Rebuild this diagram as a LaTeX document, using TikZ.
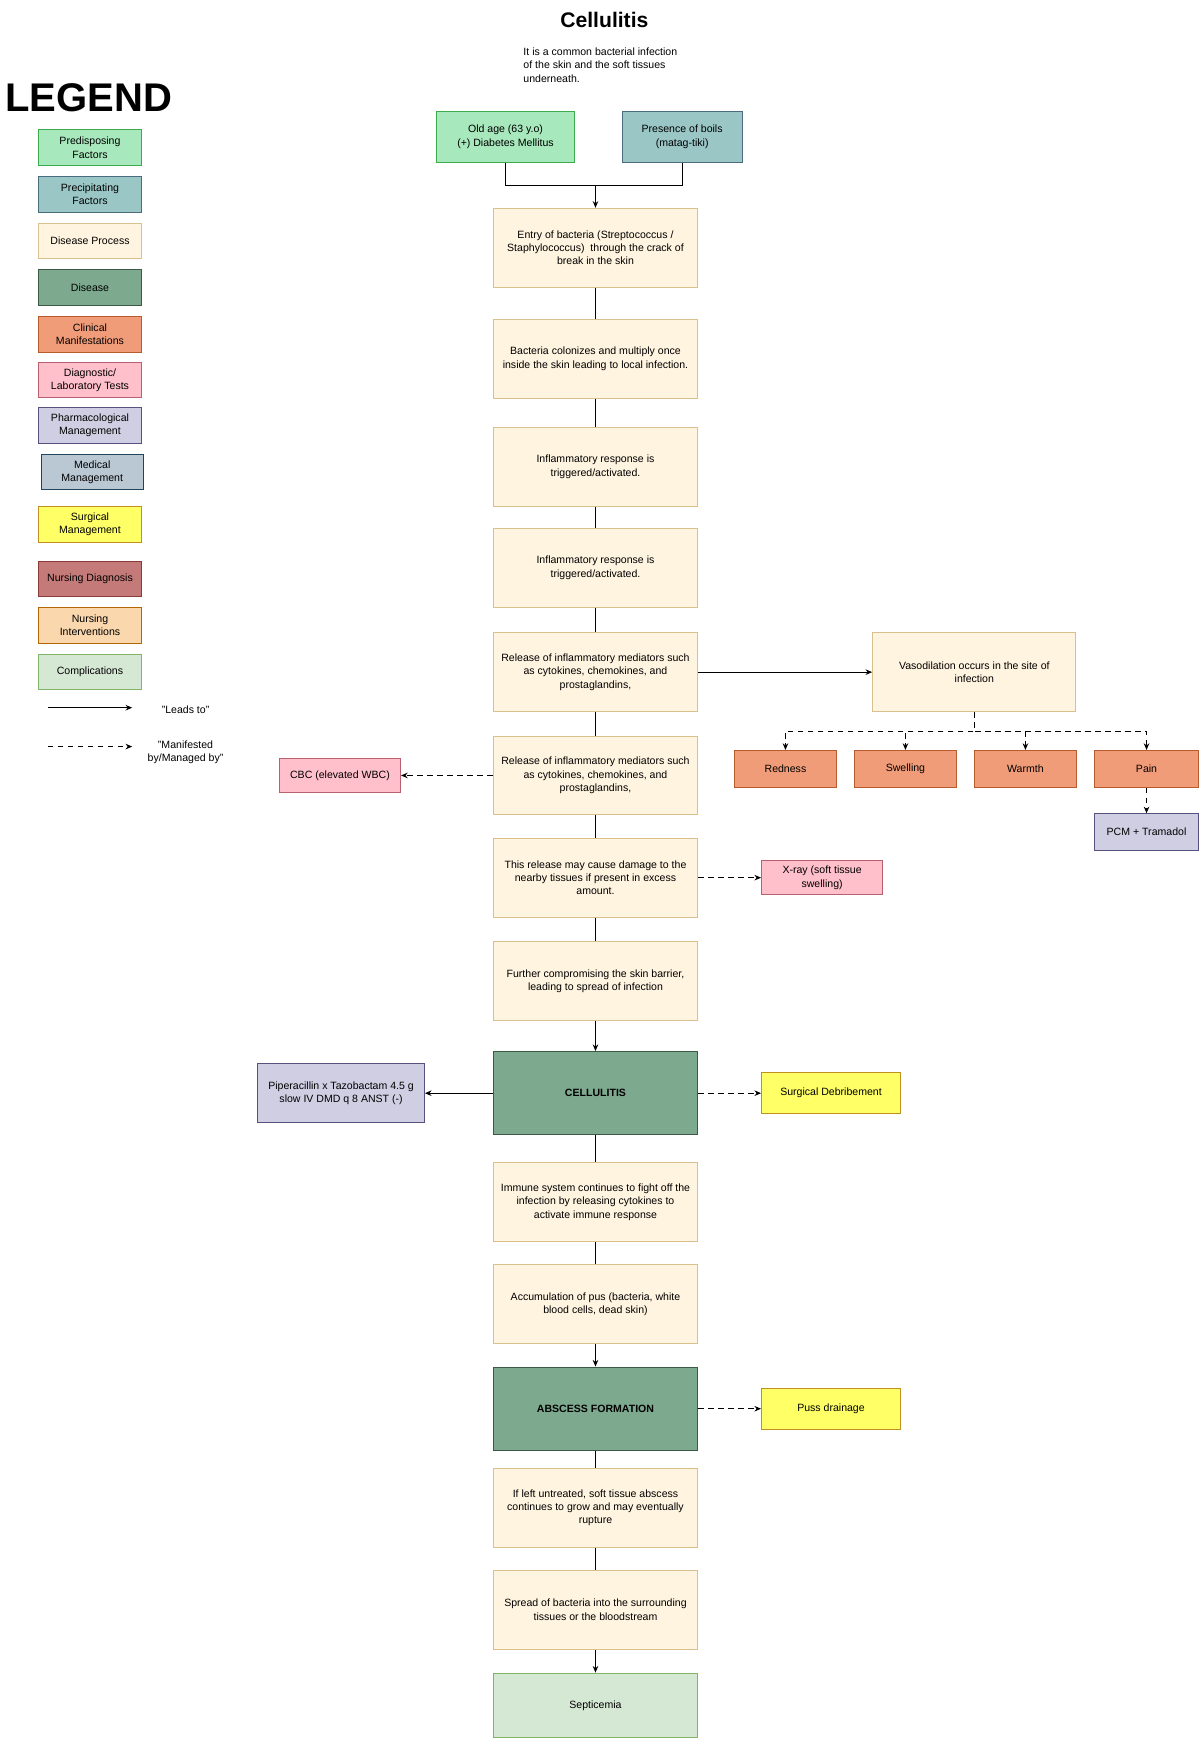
\documentclass[tikz,border=0pt]{standalone}
\usepackage{fontspec}
\setmainfont{Liberation Sans}
\usetikzlibrary{arrows.meta}
\definecolor{predF}{HTML}{A7E8BC}\definecolor{predD}{HTML}{3DAA4E}
\definecolor{precF}{HTML}{9AC6C5}\definecolor{precD}{HTML}{4A6B80}
\definecolor{procF}{HTML}{FFF4E0}\definecolor{procD}{HTML}{D9C08C}
\definecolor{disF}{HTML}{7DAA8F}\definecolor{disD}{HTML}{3A5A45}
\definecolor{clinF}{HTML}{F19C79}\definecolor{clinD}{HTML}{B85C30}
\definecolor{diagF}{HTML}{FFBFCB}\definecolor{diagD}{HTML}{B86070}
\definecolor{pharF}{HTML}{D0CEE2}\definecolor{pharD}{HTML}{56517E}
\definecolor{mediF}{HTML}{BAC8D3}\definecolor{mediD}{HTML}{23445D}
\definecolor{surgF}{HTML}{FFFF66}\definecolor{surgD}{HTML}{C09020}
\definecolor{ndxF}{HTML}{C47A78}\definecolor{ndxD}{HTML}{8B3A3A}
\definecolor{nintF}{HTML}{FAD7AC}\definecolor{nintD}{HTML}{B46504}
\definecolor{compF}{HTML}{D5E8D4}\definecolor{compD}{HTML}{82B366}
\tikzset{
  box/.style={draw, line width=0.9pt, align=center, inner sep=1pt, font=\fontsize{9.5}{12}\selectfont},
  leg/.style={box, minimum width=92pt, minimum height=32pt},
  proc/.style={box, fill=procF, draw=procD, minimum width=184pt, minimum height=71pt},
  small/.style={box, minimum width=92pt, minimum height=33pt},
  lead/.style={line width=0.9pt, -{Stealth[length=6pt,width=5pt]}},
  mani/.style={line width=0.9pt, dashed, dash pattern=on 5pt off 4pt, -{Stealth[length=6pt,width=5pt]}},
  plain/.style={line width=0.9pt}
}
\begin{document}
\begin{tikzpicture}[x=1pt,y=-1pt]
\useasboundingbox (0,0) rectangle (1080,1568);
% title and legend
\node[font=\bfseries\fontsize{19}{22}\selectfont] (title) at (544,18) {Cellulitis};
\node[anchor=north west, align=left, inner sep=0, font=\fontsize{9.5}{12}\selectfont] (desc) at (471,43) {It is a common bacterial infection\\of the skin and the soft tissues\\underneath.};
\node[font=\bfseries\fontsize{36}{40}\selectfont] (legend) at (80,88) {LEGEND};
\node[leg, fill=predF, draw=predD] (l1) at (81,133) {Predisposing\\Factors};
\node[leg, fill=precF, draw=precD] (l2) at (81,175) {Precipitating\\Factors};
\node[leg, fill=procF, draw=procD] (l3) at (81,217) {Disease Process};
\node[leg, fill=disF, draw=disD] (l4) at (81,259) {Disease};
\node[leg, fill=clinF, draw=clinD] (l5) at (81,301) {Clinical\\Manifestations};
\node[leg, fill=diagF, draw=diagD] (l6) at (81,342) {Diagnostic/\\Laboratory Tests};
\node[leg, fill=pharF, draw=pharD] (l7) at (81,383) {Pharmacological\\Management};
\node[leg, fill=mediF, draw=mediD] (l8) at (83,425) {Medical\\Management};
\node[leg, fill=surgF, draw=surgD] (l9) at (81,472) {Surgical\\Management};
\node[leg, fill=ndxF, draw=ndxD] (l10) at (81,521) {Nursing Diagnosis};
\node[leg, fill=nintF, draw=nintD] (l11) at (81,563) {Nursing\\Interventions};
\node[leg, fill=compF, draw=compD] (l12) at (81,605) {Complications};
\coordinate (ls1) at (43,637); \coordinate (le1) at (119,637);
\coordinate (ls2) at (43,672); \coordinate (le2) at (119,672);
\draw[lead] (ls1) -- (le1);
\draw[mani] (ls2) -- (le2);
\node[font=\fontsize{9.5}{12}\selectfont] (leadtxt) at (167,639) {"Leads to"};
\node[align=center, font=\fontsize{9.5}{12}\selectfont] (manitxt) at (167,677) {"Manifested\\by/Managed by"};
% factors
\node[box, fill=predF, draw=predD, minimum width=125pt, minimum height=46pt] (age) at (455,123) {Old age (63 y.o)\\(+) Diabetes Mellitus};
\node[box, fill=precF, draw=precD, minimum width=108pt, minimum height=46pt] (boils) at (614,123) {Presence of boils\\(matag-tiki)};
% main column
\node[proc] (entry) at (536,223) {Entry of bacteria (Streptococcus /\\Staphylococcus)\ \ through the crack of\\break in the skin};
\node[proc] (colon) at (536,323) {Bacteria colonizes and multiply once\\inside the skin leading to local infection.};
\node[proc] (infl1) at (536,420) {Inflammatory response is\\triggered/activated.};
\node[proc] (infl2) at (536,511) {Inflammatory response is\\triggered/activated.};
\node[proc] (rel1) at (536,605) {Release of inflammatory mediators such\\as cytokines, chemokines, and\\prostaglandins,};
\node[proc] (rel2) at (536,698) {Release of inflammatory mediators such\\as cytokines, chemokines, and\\prostaglandins,};
\node[proc] (damage) at (536,790) {This release may cause damage to the\\nearby tissues if present in excess\\amount.};
\node[proc] (further) at (536,883) {Further compromising the skin barrier,\\leading to spread of infection};
\node[proc, fill=disF, draw=disD, minimum height=75pt, font=\bfseries\fontsize{9.5}{12}\selectfont] (cell) at (536,984) {CELLULITIS};
\node[proc] (immune) at (536,1082) {Immune system continues to fight off the\\infection by releasing cytokines to\\activate immune response};
\node[proc] (pus) at (536,1174) {Accumulation of pus (bacteria, white\\blood cells, dead skin)};
\node[proc, fill=disF, draw=disD, minimum height=75pt, font=\bfseries\fontsize{9.5}{12}\selectfont] (abscess) at (536,1268) {ABSCESS FORMATION};
\node[proc] (untreat) at (536,1357) {If left untreated, soft tissue abscess\\continues to grow and may eventually\\rupture};
\node[proc] (spread) at (536,1449) {Spread of bacteria into the surrounding\\tissues or the bloodstream};
\node[proc, fill=compF, draw=compD, minimum height=58pt] (sept) at (536,1535) {Septicemia};
% side boxes
\node[proc, minimum width=183pt] (vaso) at (877,605) {Vasodilation occurs in the site of\\infection};
\node[small, fill=clinF, draw=clinD] (red) at (707,692) {Redness};
\node[small, fill=clinF, draw=clinD] (swell) at (815,692) {Swelling};
\node[small, fill=clinF, draw=clinD] (warm) at (923,692) {Warmth};
\node[small, fill=clinF, draw=clinD, minimum width=93pt] (pain) at (1032,692) {Pain};
\node[small, fill=pharF, draw=pharD, minimum width=93pt] (pcm) at (1032,749) {PCM + Tramadol};
\node[box, fill=diagF, draw=diagD, minimum width=109pt, minimum height=31pt] (cbc) at (306,698) {CBC (elevated WBC)};
\node[box, fill=diagF, draw=diagD, minimum width=109pt, minimum height=31pt] (xray) at (740,790) {X-ray (soft tissue\\swelling)};
\node[box, fill=pharF, draw=pharD, minimum width=150pt, minimum height=53pt] (pip) at (307,984) {Piperacillin x Tazobactam 4.5 g\\slow IV DMD q 8 ANST (-)};
\node[box, fill=surgF, draw=surgD, minimum width=125pt, minimum height=37pt] (debr) at (748,984) {Surgical Debribement};
\node[box, fill=surgF, draw=surgD, minimum width=125pt, minimum height=37pt] (drain) at (748,1268) {Puss drainage};
% connectors
\coordinate (join) at (536,167);
\draw[plain] (age.south) |- (join) -| (boils.south);
\draw[lead] (join) -- (entry.north);
\draw[plain] (entry) -- (colon);
\draw[plain] (colon) -- (infl1);
\draw[plain] (infl1) -- (infl2);
\draw[plain] (infl2) -- (rel1);
\draw[plain] (rel1) -- (rel2);
\draw[plain] (rel2) -- (damage);
\draw[plain] (damage) -- (further);
\draw[lead] (further) -- (cell);
\draw[plain] (cell) -- (immune);
\draw[plain] (immune) -- (pus);
\draw[lead] (pus) -- (abscess);
\draw[plain] (abscess) -- (untreat);
\draw[plain] (untreat) -- (spread);
\draw[lead] (spread) -- (sept);
\draw[lead] (rel1) -- (vaso);
\coordinate (vsplit) at (877,658);
\foreach \m in {red,swell,warm,pain}
  \draw[mani] (vaso.south) -- (vsplit) -| (\m.north);
\draw[mani] (pain) -- (pcm);
\draw[mani] (rel2) -- (cbc);
\draw[mani] (damage) -- (xray);
\draw[lead] (cell) -- (pip);
\draw[mani] (cell) -- (debr);
\draw[mani] (abscess) -- (drain);
\end{tikzpicture}
\end{document}
